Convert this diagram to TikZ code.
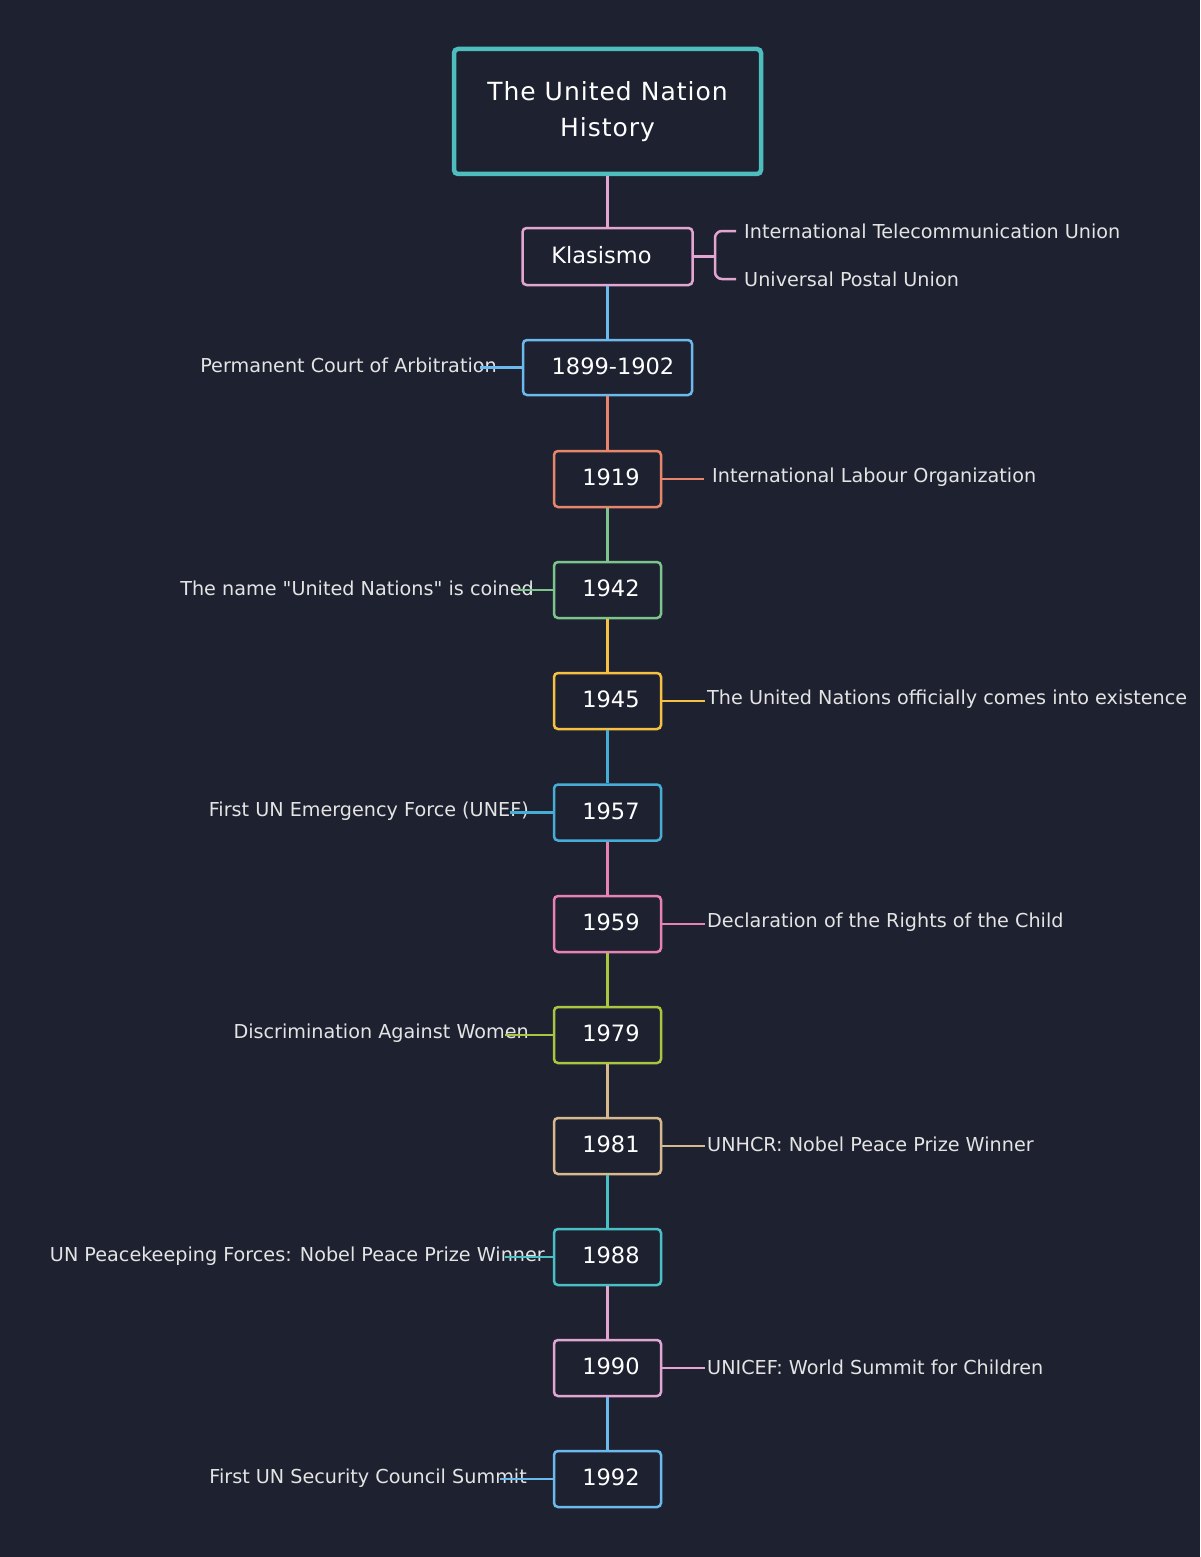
\documentclass[tikz,border=0pt]{standalone}
\usepackage{fontspec}
\setmainfont{DejaVu Sans}
\newfontfamily\titlefont[LetterSpace=4]{DejaVu Sans}
\newfontfamily\labfont{DejaVu Sans}
\newcommand\yeartxt[2][7pt]{\hspace*{#1}\raisebox{3pt}{#2}}
\definecolor{bg}{HTML}{1E2230}
\definecolor{labtext}{HTML}{E4E4E4}
\definecolor{cT}{HTML}{4DBDBD}
\definecolor{cK}{HTML}{E3A6D3}
\definecolor{cB}{HTML}{6CB9EE}
\definecolor{cO}{HTML}{E8866C}
\definecolor{cG}{HTML}{7DC48D}
\definecolor{cY}{HTML}{F6C143}
\definecolor{cB2}{HTML}{46AED6}
\definecolor{cP}{HTML}{E882B4}
\definecolor{cL}{HTML}{A8C640}
\definecolor{cN}{HTML}{D8B98D}
\definecolor{cT2}{HTML}{48C0C4}
\begin{document}
\begin{tikzpicture}[x=1pt,y=-1pt,
  yearbox/.style={draw, rounded corners=4pt, line width=2.5pt, fill=bg, text=white, inner sep=0pt,
    font=\fontsize{22.5}{26}\selectfont, minimum width=107pt, minimum height=56pt},
  lab/.style={text=labtext, inner sep=0pt, font=\labfont\fontsize{19.2}{22}\selectfont},
  conn/.style={line width=2.5pt}]
\fill[bg] (0,0) rectangle (1200,1557);
\useasboundingbox (0,0) rectangle (1200,1557);

% boxes
\node[yearbox, draw=cT, line width=4.5pt, minimum width=307pt, minimum height=125pt, align=center,
  font=\titlefont\fontsize{25}{36}\selectfont] (title) at (607.5,111.5) {The United Nation\\History};
\node[yearbox, draw=cK, minimum width=170pt, minimum height=57pt] (k) at (607.5,256.5) {\yeartxt[-12pt]{Klasismo}};
\node[yearbox, draw=cB, minimum width=169pt, minimum height=55pt] (y1899) at (607.5,367.5) {\yeartxt[11pt]{1899-1902}};
\node[yearbox, draw=cO] (y1919) at (607.5,479) {\yeartxt{1919}};
\node[yearbox, draw=cG] (y1942) at (607.5,590) {\yeartxt{1942}};
\node[yearbox, draw=cY] (y1945) at (607.5,701) {\yeartxt{1945}};
\node[yearbox, draw=cB2] (y1957) at (607.5,812.5) {\yeartxt{1957}};
\node[yearbox, draw=cP] (y1959) at (607.5,924) {\yeartxt{1959}};
\node[yearbox, draw=cL] (y1979) at (607.5,1035) {\yeartxt{1979}};
\node[yearbox, draw=cN] (y1981) at (607.5,1146) {\yeartxt{1981}};
\node[yearbox, draw=cT2] (y1988) at (607.5,1257) {\yeartxt{1988}};
\node[yearbox, draw=cK] (y1990) at (607.5,1368) {\yeartxt{1990}};
\node[yearbox, draw=cB] (y1992) at (607.5,1479) {\yeartxt{1992}};

% vertical spine
\draw[conn, cK] (title.south) -- (k.north);
\draw[conn, cB] (k.south) -- (y1899.north);
\draw[conn, cO] (y1899.south) -- (y1919.north);
\draw[conn, cG] (y1919.south) -- (y1942.north);
\draw[conn, cY] (y1942.south) -- (y1945.north);
\draw[conn, cB2] (y1945.south) -- (y1957.north);
\draw[conn, cP] (y1957.south) -- (y1959.north);
\draw[conn, cL] (y1959.south) -- (y1979.north);
\draw[conn, cN] (y1979.south) -- (y1981.north);
\draw[conn, cT2] (y1981.south) -- (y1988.north);
\draw[conn, cK] (y1988.south) -- (y1990.north);
\draw[conn, cB] (y1990.south) -- (y1992.north);

% labels
\node[lab, anchor=west] (itu) at (744,231) {International Telecommunication Union};
\node[lab, anchor=west] (upu) at (744,279) {Universal Postal Union};
\node[lab, anchor=east] (pca) at (497,365.5) {Permanent Court of Arbitration};
\node[lab, anchor=west] (ilo) at (712,477.5) {International Labour Organization};
\node[lab, anchor=east] (name) at (534,588.5) {The name "United Nations" is coined};
\node[lab, anchor=west] (exist) at (707,699.5) {The United Nations officially comes into existence};
\node[lab, anchor=east] (unef) at (529,811) {First UN Emergency Force (UNEF)};
\node[lab, anchor=west] (child) at (707,922.5) {Declaration of the Rights of the Child};
\node[lab, anchor=east] (women) at (529,1033.5) {Discrimination Against Women};
\node[lab, anchor=west] (unhcr) at (707,1144.5) {UNHCR: Nobel Peace Prize Winner};
\node[lab, anchor=east] (peace) at (545,1256) {UN Peacekeeping Forces: Nobel Peace Prize Winner};
\node[lab, anchor=west] (unicef) at (707,1367) {UNICEF: World Summit for Children};
\node[lab, anchor=east] (summit) at (527,1478) {First UN Security Council Summit};

% bracket for Klasismo
\coordinate (kb) at (715,256.5);
\coordinate (kt) at (736,231);
\coordinate (ku) at (736,279);
\draw[conn, cK] (k.east) -- (kb);
\draw[conn, cK, rounded corners=7pt] (kt) -- (kb |- kt) -- (kb |- ku) -- (ku);

% side connectors
\coordinate (e1899) at (480,367.5);
\coordinate (e1919) at (704,479);
\coordinate (e1942) at (516,590);
\coordinate (e1945) at (705,701);
\coordinate (e1957) at (510,812.5);
\coordinate (e1959) at (705,924);
\coordinate (e1979) at (505,1035);
\coordinate (e1981) at (705,1146);
\coordinate (e1988) at (505,1257);
\coordinate (e1990) at (705,1368);
\coordinate (e1992) at (500,1479);
\draw[conn, cB] (y1899.west) -- (e1899);
\draw[conn, cO] (y1919.east) -- (e1919);
\draw[conn, cG] (y1942.west) -- (e1942);
\draw[conn, cY] (y1945.east) -- (e1945);
\draw[conn, cB2] (y1957.west) -- (e1957);
\draw[conn, cP] (y1959.east) -- (e1959);
\draw[conn, cL] (y1979.west) -- (e1979);
\draw[conn, cN] (y1981.east) -- (e1981);
\draw[conn, cT2] (y1988.west) -- (e1988);
\draw[conn, cK] (y1990.east) -- (e1990);
\draw[conn, cB] (y1992.west) -- (e1992);
\end{tikzpicture}
\end{document}
